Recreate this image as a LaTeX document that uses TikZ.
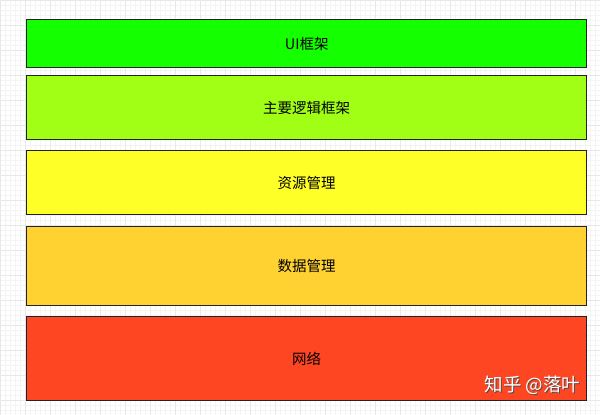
\documentclass[tikz,border=0pt]{standalone}
\usepackage{fontspec}
\newfontfamily\cjk{Noto Sans CJK SC}
\usetikzlibrary{positioning}
\definecolor{GridMinor}{HTML}{F4F4F4}
\definecolor{GridMajor}{HTML}{E8E8E8}
\definecolor{UIGreen}{HTML}{14FF00}
\definecolor{LogicLime}{HTML}{A0FF14}
\definecolor{ResYellow}{HTML}{FFFF28}
\definecolor{DataAmber}{HTML}{FFD232}
\definecolor{NetRed}{HTML}{FF4623}
\definecolor{EdgeDark}{HTML}{222222}

\begin{document}
\begin{tikzpicture}[x=1pt,y=-1pt,every node/.style={font=\cjk\fontsize{14.5}{16}\selectfont,text=black},
    layer/.style={draw=EdgeDark,line width=1.3pt,minimum width=560pt,inner sep=0pt,anchor=north west}]
        \useasboundingbox (0,0) rectangle (600,415);
        \fill[white] (0,0) rectangle (600,415);
        \draw[GridMinor,line width=0.4pt,step=5pt] (0,0) grid (600,415);
        \draw[GridMajor,line width=0.5pt,step=25pt] (0,0) grid (600,415);
        \node[layer,fill=UIGreen,minimum height=48pt] (ui) at (26,19) {UI框架};
        \node[layer,fill=LogicLime,minimum height=64pt] (logic) at (26,75) {主要逻辑框架};
        \node[layer,fill=ResYellow,minimum height=64pt] (res) at (26,150) {资源管理};
        \node[layer,fill=DataAmber,minimum height=79pt] (data) at (26,226) {数据管理};
        \node[layer,fill=NetRed,minimum height=84pt] (net) at (26,316) {网络};
        \node[anchor=south east,font=\cjk\fontsize{18.5}{20}\selectfont,text=black!70] (markshadow) at (584.8,398.8) {知乎 @落叶};
        \node[anchor=south east,font=\cjk\fontsize{18.5}{20}\selectfont,text=white] (mark) at (584,398) {知乎 @落叶};
      \end{tikzpicture}
\end{document}
